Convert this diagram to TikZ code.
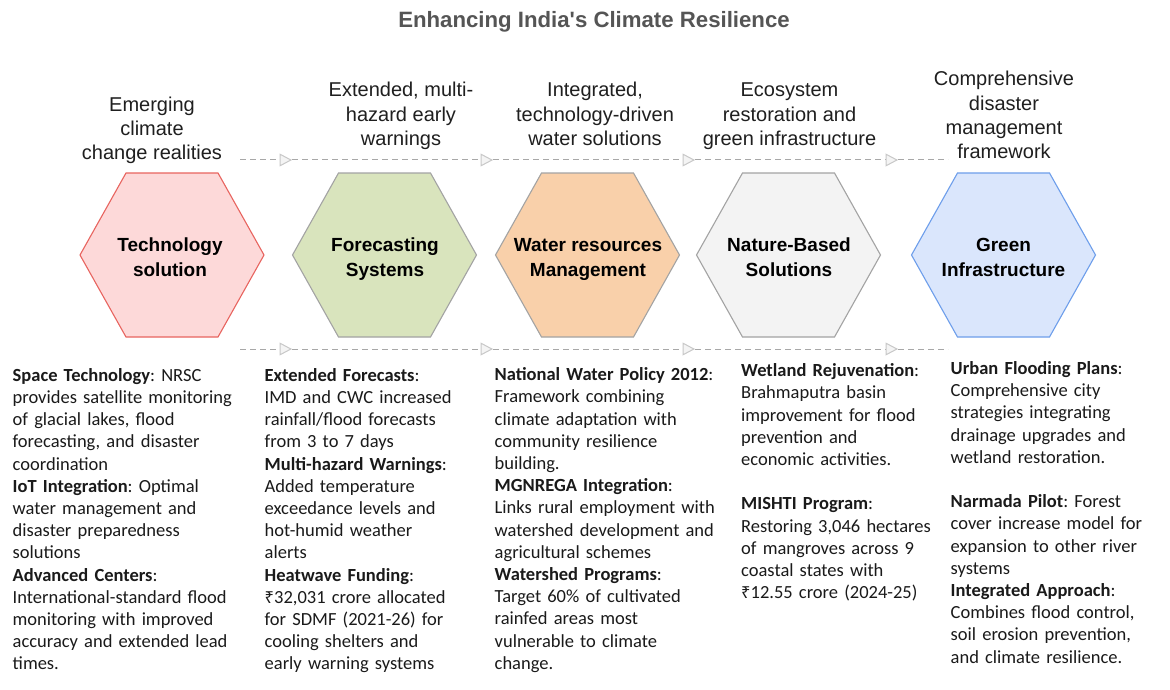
\documentclass[tikz,border=0pt]{standalone}
\usepackage{fontspec}
\setmainfont{Carlito}
\newfontfamily\labelfont{Liberation Sans}
\newfontfamily\rupee{Noto Sans}
\usetikzlibrary{arrows.meta}
\frenchspacing
\definecolor{titlegray}{HTML}{555555}
\definecolor{pinkfill}{HTML}{FDD9D9}
\definecolor{pinkline}{HTML}{E8645F}
\definecolor{greenfill}{HTML}{D9E4BD}
\definecolor{peachfill}{HTML}{F9D0AA}
\definecolor{greyfill}{HTML}{F3F3F3}
\definecolor{bluefill}{HTML}{DAE6FC}
\definecolor{blueline}{HTML}{6D9EEB}
\definecolor{hexline}{HTML}{A3A3A3}
\definecolor{dashcol}{HTML}{A8A8A8}
\definecolor{tipline}{HTML}{C8C8C8}
\definecolor{tipfill}{HTML}{F4F4F4}
\definecolor{bodytext}{HTML}{1A1A1A}
\newcommand{\hexshape}[2]{%
  \draw[#2] ({#1-92},255) -- ({#1-46},173) -- ({#1+46},173) -- ({#1+92},255)
    -- ({#1+46},337) -- ({#1-46},337) -- cycle;}
\newcommand{\rs}{{\rupee\fontsize{16.5}{22.2}\selectfont ₹}}
\tikzset{
  titletext/.style={font={\labelfont\bfseries\fontsize{22.2}{26}\selectfont}, text=titlegray, inner sep=0pt},
  toplabel/.style={font={\labelfont\fontsize{20}{24.3}\selectfont}, text=black!88, align=center, inner sep=0pt, anchor=north},
  hexlabel/.style={font={\labelfont\bfseries\fontsize{19}{25}\selectfont}, text=black, align=center, inner sep=0pt},
  bodycol/.style={font={\fontsize{18.5}{22.2}\selectfont}, text=bodytext, align=left, text width=260pt, inner sep=0pt, anchor=north west},
  hexbase/.style={line width=1.1pt},
  flow/.style={draw=dashcol, line width=1pt, dash pattern=on 6pt off 4pt},
  flowarrow/.style={flow, -{Triangle[length=12.5pt, width=13pt, fill=tipfill, color=tipline]}},
}
\begin{document}
\begin{tikzpicture}[x=1pt, y=-1pt]
\useasboundingbox (0,0) rectangle (1170,690);
\fill[white] (0,0) rectangle (1170,690);

% title
\node[titletext] (title) at (594,22) {Enhancing India's Climate Resilience};

% top labels
\node[toplabel] (l1) at (152,94) {\strut Emerging\\ climate\\ change realities};
\node[toplabel] (l2) at (401,79.5) {\strut Extended, multi-\\ hazard early\\ warnings};
\node[toplabel] (l3) at (595,79.5) {\strut Integrated,\\ technology-driven\\ water solutions};
\node[toplabel] (l4) at (789.5,79.5) {\strut Ecosystem\\ restoration and\\ green infrastructure};
\node[toplabel] (l5) at (1004,68.5) {\strut Comprehensive\\ disaster\\ management\\ framework};

% hexagons
\hexshape{172}{hexbase, fill=pinkfill, draw=pinkline}
\hexshape{384.5}{hexbase, fill=greenfill, draw=hexline}
\hexshape{587.5}{hexbase, fill=peachfill, draw=hexline}
\hexshape{788.5}{hexbase, fill=greyfill, draw=hexline}
\hexshape{1003.5}{hexbase, fill=bluefill, draw=blueline}

\node[hexlabel] (h1) at (170,259) {\strut Technology\\ solution\strut};
\node[hexlabel] (h2) at (385,259) {\strut Forecasting\\ Systems\strut};
\node[hexlabel] (h3) at (588,259) {\strut Water resources\\ Management\strut};
\node[hexlabel] (h4) at (789,259) {\strut Nature-Based\\ Solutions\strut};
\node[hexlabel] (h5) at (1003.5,259) {\strut Green\\ Infrastructure\strut};

% dashed flow lines
\foreach \yy/\nm in {160/t, 349/b} {
  \coordinate (\nm0) at (240,\yy);
  \coordinate (\nm1) at (292,\yy);
  \coordinate (\nm2) at (493,\yy);
  \coordinate (\nm3) at (695,\yy);
  \coordinate (\nm4) at (898,\yy);
  \coordinate (\nm5) at (948,\yy);
  \draw[flowarrow] (\nm0) -- (\nm1);
  \draw[flowarrow] (\nm1) -- (\nm2);
  \draw[flowarrow] (\nm2) -- (\nm3);
  \draw[flowarrow] (\nm3) -- (\nm4);
  \draw[flow] (\nm4) -- (\nm5);
}

% body columns
\node[bodycol] (c1) at (12.5,365.5) {\strut\textbf{Space Technology}: NRSC\\
provides satellite monitoring\\
of glacial lakes, flood\\
forecasting, and disaster\\
coordination\\
\textbf{IoT Integration}: Optimal\\
water management and\\
disaster preparedness\\
solutions\\
\textbf{Advanced Centers}:\\
International-standard flood\\
monitoring with improved\\
accuracy and extended lead\\
times.};

\node[bodycol] (c2) at (264.5,365.5) {\strut\textbf{Extended Forecasts}:\\
IMD and CWC increased\\
rainfall/flood forecasts\\
from 3 to 7 days\\
\textbf{Multi-hazard Warnings}:\\
Added temperature\\
exceedance levels and\\
hot-humid weather\\
alerts\\
\textbf{Heatwave Funding}:\\
\rs32,031 crore allocated\\
for SDMF (2021-26) for\\
cooling shelters and\\
early warning systems};

\node[bodycol] (c3) at (494.5,365) {\strut\textbf{National Water Policy 2012}:\\
Framework combining\\
climate adaptation with\\
community resilience\\
building.\\
\textbf{MGNREGA Integration}:\\
Links rural employment with\\
watershed development and\\
agricultural schemes\\
\textbf{Watershed Programs}:\\
Target 60\% of cultivated\\
rainfed areas most\\
vulnerable to climate\\
change.};

\node[bodycol] (c4) at (741,361) {\strut\textbf{Wetland Rejuvenation}:\\
Brahmaputra basin\\
improvement for flood\\
prevention and\\
economic activities.\\
\mbox{}\\
\textbf{MISHTI Program}:\\
Restoring 3,046 hectares\\
of mangroves across 9\\
coastal states with\\
\rs12.55 crore (2024-25)};

\node[bodycol] (c5) at (950.5,358.7) {\strut\textbf{Urban Flooding Plans}:\\
Comprehensive city\\
strategies integrating\\
drainage upgrades and\\
wetland restoration.\\
\mbox{}\\
\textbf{Narmada Pilot}: Forest\\
cover increase model for\\
expansion to other river\\
systems\\
\textbf{Integrated Approach}:\\
Combines flood control,\\
soil erosion prevention,\\
and climate resilience.};
\end{tikzpicture}
\end{document}
